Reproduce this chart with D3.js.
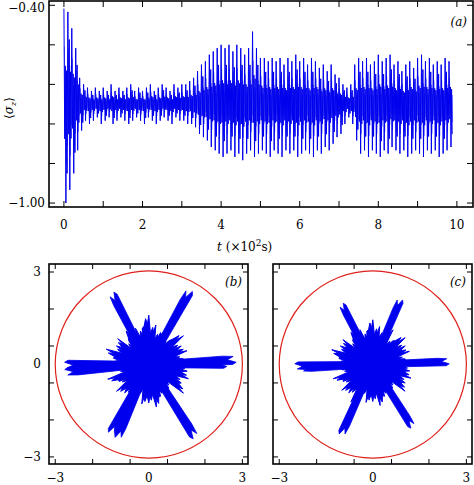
<!DOCTYPE html>
<html>
<head>
<meta charset="utf-8">
<script src="https://cdn.jsdelivr.net/npm/d3@7"></script>
<style>
  body { margin: 0; background: #fff; }
  text { font-family: "DejaVu Serif", "Liberation Serif", serif; font-size: 12px; fill: #000; }
</style>
</head>
<body>
<script>
// time axis samples (x 10^2 s), one oscillation per sample
var tSamples = d3.range(0, 99).map(function(i) { return +(i / 10).toFixed(1); });
var upperEnv = [-0.41,-0.42,-0.47,-0.53,-0.62,-0.64,-0.65,-0.66,-0.65,-0.66,
  -0.65,-0.66,-0.64,-0.66,-0.65,-0.66,-0.65,-0.64,-0.66,-0.65,
  -0.66,-0.65,-0.64,-0.66,-0.65,-0.64,-0.65,-0.66,-0.64,-0.65,
  -0.64,-0.64,-0.63,-0.62,-0.60,-0.58,-0.57,-0.55,-0.54,-0.53,
  -0.52,-0.53,-0.52,-0.54,-0.52,-0.53,-0.55,-0.53,-0.48,-0.53,
  -0.56,-0.56,-0.57,-0.56,-0.57,-0.56,-0.58,-0.56,-0.57,-0.55,
  -0.57,-0.56,-0.58,-0.56,-0.57,-0.59,-0.58,-0.60,-0.58,-0.61,
  -0.62,-0.64,-0.65,-0.64,-0.58,-0.56,-0.57,-0.56,-0.58,-0.57,
  -0.55,-0.57,-0.56,-0.55,-0.58,-0.57,-0.60,-0.58,-0.57,-0.59,
  -0.56,-0.55,-0.57,-0.56,-0.58,-0.57,-0.58,-0.56,-0.57];
var lowerEnv = [-1.00,-0.96,-0.91,-0.84,-0.78,-0.75,-0.76,-0.75,-0.74,-0.76,
  -0.75,-0.74,-0.76,-0.75,-0.74,-0.75,-0.76,-0.75,-0.74,-0.75,
  -0.76,-0.74,-0.75,-0.76,-0.75,-0.74,-0.75,-0.76,-0.74,-0.75,
  -0.75,-0.76,-0.76,-0.77,-0.79,-0.80,-0.81,-0.83,-0.84,-0.85,
  -0.86,-0.85,-0.84,-0.86,-0.85,-0.87,-0.85,-0.84,-0.86,-0.85,
  -0.84,-0.85,-0.86,-0.84,-0.85,-0.86,-0.84,-0.85,-0.84,-0.86,
  -0.85,-0.84,-0.85,-0.86,-0.84,-0.85,-0.83,-0.84,-0.82,-0.80,
  -0.79,-0.76,-0.74,-0.76,-0.81,-0.85,-0.84,-0.86,-0.84,-0.85,
  -0.86,-0.84,-0.85,-0.83,-0.84,-0.85,-0.84,-0.86,-0.85,-0.84,
  -0.85,-0.86,-0.84,-0.85,-0.84,-0.86,-0.85,-0.84,-0.83];
var centreLevel = -0.70;
var xTicksTop = d3.range(0, 11);
var xLabelsTop = [0, 2, 4, 6, 8, 10];
var yTicksTop = [-0.40, -0.52, -0.64, -0.76, -0.88, -1.00];
var yLabelsTop = [-0.40, -1.00];

// phase-space panels: spike angles (deg), lengths, and central blob radii
var spikeAnglesB = [117, 61, 3, 0, 180, 185, 247, 241, 302];
var spikeLengthsB = [2.6, 2.75, 2.8, 2.5, 2.7, 2.7, 2.6, 2.55, 2.8];
var spikeAnglesC = [117, 67, 2, 181, 183, 246, 302];
var spikeLengthsC = [2.2, 2.3, 2.45, 2.5, 2.3, 2.5, 2.4];
var blobRadiiB = [1.5,1.1,1.3,1.2,1.45,1.0,1.35,1.1,1.3,1.6,1.2,1.25,1.4,1.0,1.3,1.2,1.45,1.15,
  1.3,1.0,1.4,1.1,1.35,1.2,1.5,1.05,1.3,1.25,1.4,1.1,1.3,1.0,1.45,1.2,1.35,1.25];
var blobRadiiC = [1.35,1.05,1.25,1.2,1.35,1.0,1.3,1.15,1.25,1.45,1.1,1.2,1.35,1.0,1.25,1.2,1.4,1.1,
  1.25,1.0,1.35,1.1,1.3,1.2,1.4,1.05,1.25,1.2,1.35,1.1,1.25,1.0,1.35,1.2,1.3,1.2];
var circleRadius = 3;
var phaseTicks = [-3, -1.8, -0.6, 0.6, 1.8, 3];
var phaseLabels = [-3, 0, 3];

var svg = d3.select('body').append('svg').attr('width', 474).attr('height', 485);
var blue = '#0000ee';

function fmt(v) { return v < 0 ? '\u2212' + Math.abs(v).toFixed(2) : v.toFixed(2); }

function frame(g, w, h) {
  g.append('rect').attr('width', w).attr('height', h)
    .attr('fill', 'none').attr('stroke', '#000').attr('stroke-width', 1.6);
}

// ---- panel (a)
var panelA = svg.append('g').attr('transform', 'translate(49,1)');
var wA = 424, hA = 206;
var x = d3.scaleLinear().domain([-0.38, 10.41]).range([0, wA]);
var y = d3.scaleLinear().domain([-0.387, -1.012]).range([0, hA]);

function mix(a, w) { return a * w + centreLevel * (1 - w); }
var pts = [];
tSamples.forEach(function(t, i) {
  var u = upperEnv[i], l = lowerEnv[i];
  pts.push([t, u]);
  pts.push([t + 0.02, mix(l, 0.35)]);
  pts.push([t + 0.035, mix(u, i % 2 ? 0.7 : 0.4)]);
  pts.push([t + 0.05, l]);
  pts.push([t + 0.065, mix(u, 0.35)]);
  pts.push([t + 0.08, mix(l, i % 2 ? 0.4 : 0.7)]);
});
var line = d3.line().x(function(d) { return x(d[0]); }).y(function(d) { return y(d[1]); });
panelA.append('path').attr('d', line(pts.map(function(d) { return [d[0] + 0.012, mix(d[1], 0.6)]; })))
  .attr('fill', 'none').attr('stroke', '#5f6bff').attr('stroke-width', 0.8);
panelA.append('path').attr('d', line(pts)).attr('fill', 'none')
  .attr('stroke', blue).attr('stroke-width', 1);

frame(panelA, wA, hA);
panelA.selectAll('.xt').data(xTicksTop).enter().append('path')
  .attr('d', function(d) { return 'M' + x(d) + ',' + hA + 'v-6M' + x(d) + ',0v6'; })
  .attr('stroke', '#000');
panelA.selectAll('.yt').data(yTicksTop).enter().append('path')
  .attr('d', function(d) { return 'M0,' + y(d) + 'h6M' + wA + ',' + y(d) + 'h-6'; })
  .attr('stroke', '#000');
panelA.selectAll('.xl').data(xLabelsTop).enter().append('text')
  .attr('x', function(d) { return x(d); }).attr('y', 228).attr('text-anchor', 'middle').text(String);
panelA.selectAll('.yl').data(yLabelsTop).enter().append('text')
  .attr('x', -4).attr('y', function(d) { return Math.max(y(d) + 4, 11); }).attr('text-anchor', 'end').text(fmt);
panelA.append('text').attr('x', x(4.6)).attr('y', 250).attr('text-anchor', 'middle')
  .html('<tspan font-style="italic">t</tspan> (\u00d710<tspan dy="-5" font-size="9">2</tspan><tspan dy="5">s)</tspan>');
panelA.append('text').attr('transform', 'translate(-36,' + (hA / 2 + 4) + ') rotate(-90)')
  .attr('text-anchor', 'middle').html('\u27e8<tspan font-style="italic">\u03c3</tspan><tspan font-size="8" font-style="italic" dy="3">z</tspan><tspan dy="-3">\u27e9</tspan>');
panelA.append('text').attr('x', wA - 6).attr('y', 25).attr('text-anchor', 'end')
  .attr('font-style', 'italic').text('(a)');

// ---- panels (b), (c)
function phasePanel(left, tag, angles, lengths, radii) {
  var w = 199, h = 200;
  var g = svg.append('g').attr('transform', 'translate(' + left + ',264)');
  var px = d3.scaleLinear().domain([-3.2, 3.18]).range([0, w]);
  var py = d3.scaleLinear().domain([3.26, -3.23]).range([0, h]);
  function pt(r, deg) {
    var a = deg * Math.PI / 180;
    return [px(r * Math.cos(a)), py(r * Math.sin(a))];
  }
  g.append('circle').attr('cx', px(0)).attr('cy', py(0))
    .attr('r', px(circleRadius) - px(0)).attr('fill', 'none').attr('stroke', '#e0201a').attr('stroke-width', 1.2);
  angles.forEach(function(a, i) {
    var L = lengths[i];
    g.append('path').attr('d', 'M' + [pt(0.6, a - 10), pt(L * 0.96, a - 3), pt(L, a - 1.5), pt(L * 0.9, a + 0.5),
      pt(L * 0.97, a + 2.5), pt(L * 0.85, a + 3.5), pt(0.6, a + 10)].join('L') + 'Z')
      .attr('fill', blue).attr('stroke', blue).attr('stroke-width', 0.8);
  });
  var n = radii.length, blob = [];
  radii.forEach(function(r, i) {
    var a = i * 360 / n;
    blob.push(pt(r, a), pt(r * 0.82, a + 2), pt(r * 0.93, a + 4), pt(r * 0.78, a + 7));
  });
  g.append('path').attr('d', 'M' + blob.join('L') + 'Z').attr('fill', blue)
    .attr('stroke', blue).attr('stroke-width', 1).attr('stroke-linejoin', 'miter');
  frame(g, w, h);
  g.selectAll('.t').data(phaseTicks).enter().append('path')
    .attr('d', function(d) { return 'M' + px(d) + ',' + h + 'v-5M' + px(d) + ',0v5M0,' + py(d) + 'h5M' + w + ',' + py(d) + 'h-5'; })
    .attr('stroke', '#000');
  g.selectAll('.xl').data(phaseLabels).enter().append('text')
    .attr('x', function(d) { return px(d); }).attr('y', h + 18).attr('text-anchor', 'middle')
    .text(function(d) { return d < 0 ? '\u2212' + (-d) : d; });
  if (tag === 'b') {
    g.selectAll('.yl').data(phaseLabels).enter().append('text')
      .attr('x', -8).attr('y', function(d) { return py(d) + 4; }).attr('text-anchor', 'end')
      .text(function(d) { return d < 0 ? '\u2212' + (-d) : d; });
  }
  g.append('text').attr('x', w - 6).attr('y', 22).attr('text-anchor', 'end')
    .attr('font-style', 'italic').text('(' + tag + ')');
}
phasePanel(49, 'b', spikeAnglesB, spikeLengthsB, blobRadiiB);
phasePanel(273, 'c', spikeAnglesC, spikeLengthsC, blobRadiiC);
</script>
</body>
</html>
